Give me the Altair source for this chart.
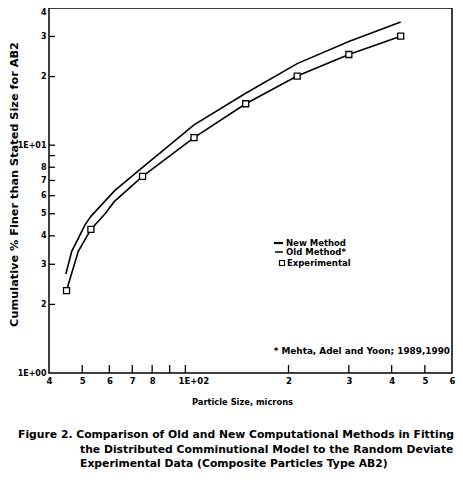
import altair as alt
import pandas as pd

# Experimental data (standard sieve sizes)
exp_x = [45, 53, 75, 106, 150, 212, 300, 425]
exp_y = [2.3, 4.27, 7.3, 10.8, 15.2, 20.1, 25.0, 30.1]

# Old method curve
old_x = [45, 48.7, 53, 58.3, 62, 75, 106, 150, 212, 300, 425]
old_y = [2.3, 3.42, 4.27, 5.0, 5.65, 7.3, 10.8, 15.2, 20.1, 25.0, 30.1]

# New method curve
new_x = [44.8, 46.6, 48.7, 50.9, 53, 62.3, 75, 106, 150, 212, 300, 425]
new_y = [2.72, 3.42, 3.90, 4.46, 4.87, 6.33, 7.99, 12.27, 16.9, 22.8, 28.5, 34.7]

x_tick_vals = [40, 50, 60, 70, 80, 90, 100, 200, 300, 400, 500, 600]
x_tick_labels = ["4", "5", "6", "7", "8", "", "1E+02", "2", "3", "4", "5", "6"]
y_tick_vals = [1, 2, 3, 4, 5, 6, 7, 8, 9, 10, 20, 30, 40]
y_tick_labels = ["1E+00", "2", "3", "4", "5", "6", "7", "8", "", "1E+01", "2", "3", "4"]
x_inner = [50, 60, 70, 80, 90, 100, 200, 300, 400, 500]
y_inner = [2, 3, 4, 5, 6, 7, 8, 9, 10, 20, 30]

caption = [
    "Figure 2.  Comparison of Old and New Computational Methods in Fitting",
    "the Distributed Comminutional Model to the Random Deviate",
    "Experimental Data (Composite Particles Type AB2)",
]
legend_labels = ["New Method", "Old Method*", "Experimental"]
footnote = "* Mehta, Adel and Yoon; 1989,1990"

F = "DejaVu Sans"
W, H = 403, 365


def label_expr(vals, labels):
    expr = "''"
    for v, l in reversed(list(zip(vals, labels))):
        expr = f"datum.value == {v} ? '{l}' : ({expr})"
    return expr


xs = alt.Scale(type="log", domain=[40, 600], nice=False)
ys = alt.Scale(type="log", domain=[1, 40], nice=False)

xaxis = alt.Axis(values=x_tick_vals, labelExpr=label_expr(x_tick_vals, x_tick_labels),
                 ticks=False, domain=False, grid=False, labelFlush=False, labelOverlap=False,
                 labelOffset={"condition": {"test": "datum.value == 100", "value": 8}, "value": 0},
                 labelPadding=3, labelFontSize=8.5, labelFont=F, labelFontWeight="bold",
                 labelColor="black", title="Particle Size, microns", titleFont=F,
                 titleFontSize=8.3, titleFontWeight="bold", titleColor="black",
                 titleX=193, titleY=29, titleBaseline="middle", titleAlign="center")
yaxis = alt.Axis(values=y_tick_vals, labelExpr=label_expr(y_tick_vals, y_tick_labels),
                 ticks=False, domain=False, grid=False, labelFlush=False, labelOverlap=False,
                 labelBaseline={"condition": {"test": "datum.value == 40", "value": "top"},
                                "value": "middle"},
                 labelPadding=3, labelFontSize=8, labelFont=F, labelFontWeight="bold",
                 labelColor="black", title="Cumulative % Finer than Stated Size for AB2",
                 titleFont=F, titleFontSize=11.3, titleFontWeight="bold", titleColor="black",
                 titleX=-35, titleY=176, titleAngle=-90, titleBaseline="middle",
                 titleAlign="center")

xenc = alt.X("x:Q", scale=xs, axis=xaxis)
yenc = alt.Y("y:Q", scale=ys, axis=yaxis)

df_new = pd.DataFrame({"x": new_x, "y": new_y})
df_old = pd.DataFrame({"x": old_x, "y": old_y})
df_exp = pd.DataFrame({"x": exp_x, "y": exp_y})
df_xt = pd.DataFrame({"x": x_inner})
df_yt = pd.DataFrame({"y": y_inner})
one = pd.DataFrame({"a": [0]})

new_line = alt.Chart(df_new).mark_line(color="black", strokeWidth=1.6).encode(x=xenc, y=yenc)
old_line = alt.Chart(df_old).mark_line(color="black", strokeWidth=1.6).encode(x=xenc, y=yenc)
pts = alt.Chart(df_exp).mark_square(fill="white", stroke="black", strokeWidth=1.3,
                                    size=36, opacity=1).encode(x=xenc, y=yenc)
xt = alt.Chart(df_xt).mark_rule(color="black", strokeWidth=1.3).encode(
    x=xenc, y=alt.value(H), y2=alt.value(H - 8))
yt = alt.Chart(df_yt).mark_rule(color="black", strokeWidth=1.3).encode(
    y=yenc, x=alt.value(0), x2=alt.value(6))


def txt(s, x, y, align="left", size=10):
    return alt.Chart(one).mark_text(text=s, align=align, baseline="middle", font=F,
                                    fontWeight="bold", fontSize=size, color="black").encode(
        x=alt.value(x), y=alt.value(y))


def seg(x1, x2, y, w=1.5):
    return alt.Chart(one).mark_rule(color="black", strokeWidth=w).encode(
        x=alt.value(x1), x2=alt.value(x2), y=alt.value(y))


leg = [
    seg(225, 234, 235, 2.2), txt(legend_labels[0], 237, 235, size=8.5),
    seg(226, 234, 244), txt(legend_labels[1], 237, 244, size=8.5),
    alt.Chart(one).mark_square(fill="white", stroke="black", strokeWidth=1.2, size=25,
                               opacity=1).encode(x=alt.value(233), y=alt.value(255)),
    txt(legend_labels[2], 238, 255, size=8.5),
    txt(footnote, 401, 343, align="right", size=8.9),
]
cap = [
    txt(caption[0], -31, 427, size=10.8),
    txt(caption[1], 31, 441.5, size=10.8),
    txt(caption[2], 31, 456, size=10.8),
]

chart = alt.layer(new_line, old_line, xt, yt, pts, *leg, *cap).properties(
    width=W, height=H,
    autosize=alt.AutoSizeParams(type="none"),
    padding={"left": 41, "top": 0, "right": 3, "bottom": 103},
    background="white",
).configure_view(stroke="black", strokeWidth=1.5)

chart.save("out.html", embed_options={"renderer": "svg", "actions": False})
